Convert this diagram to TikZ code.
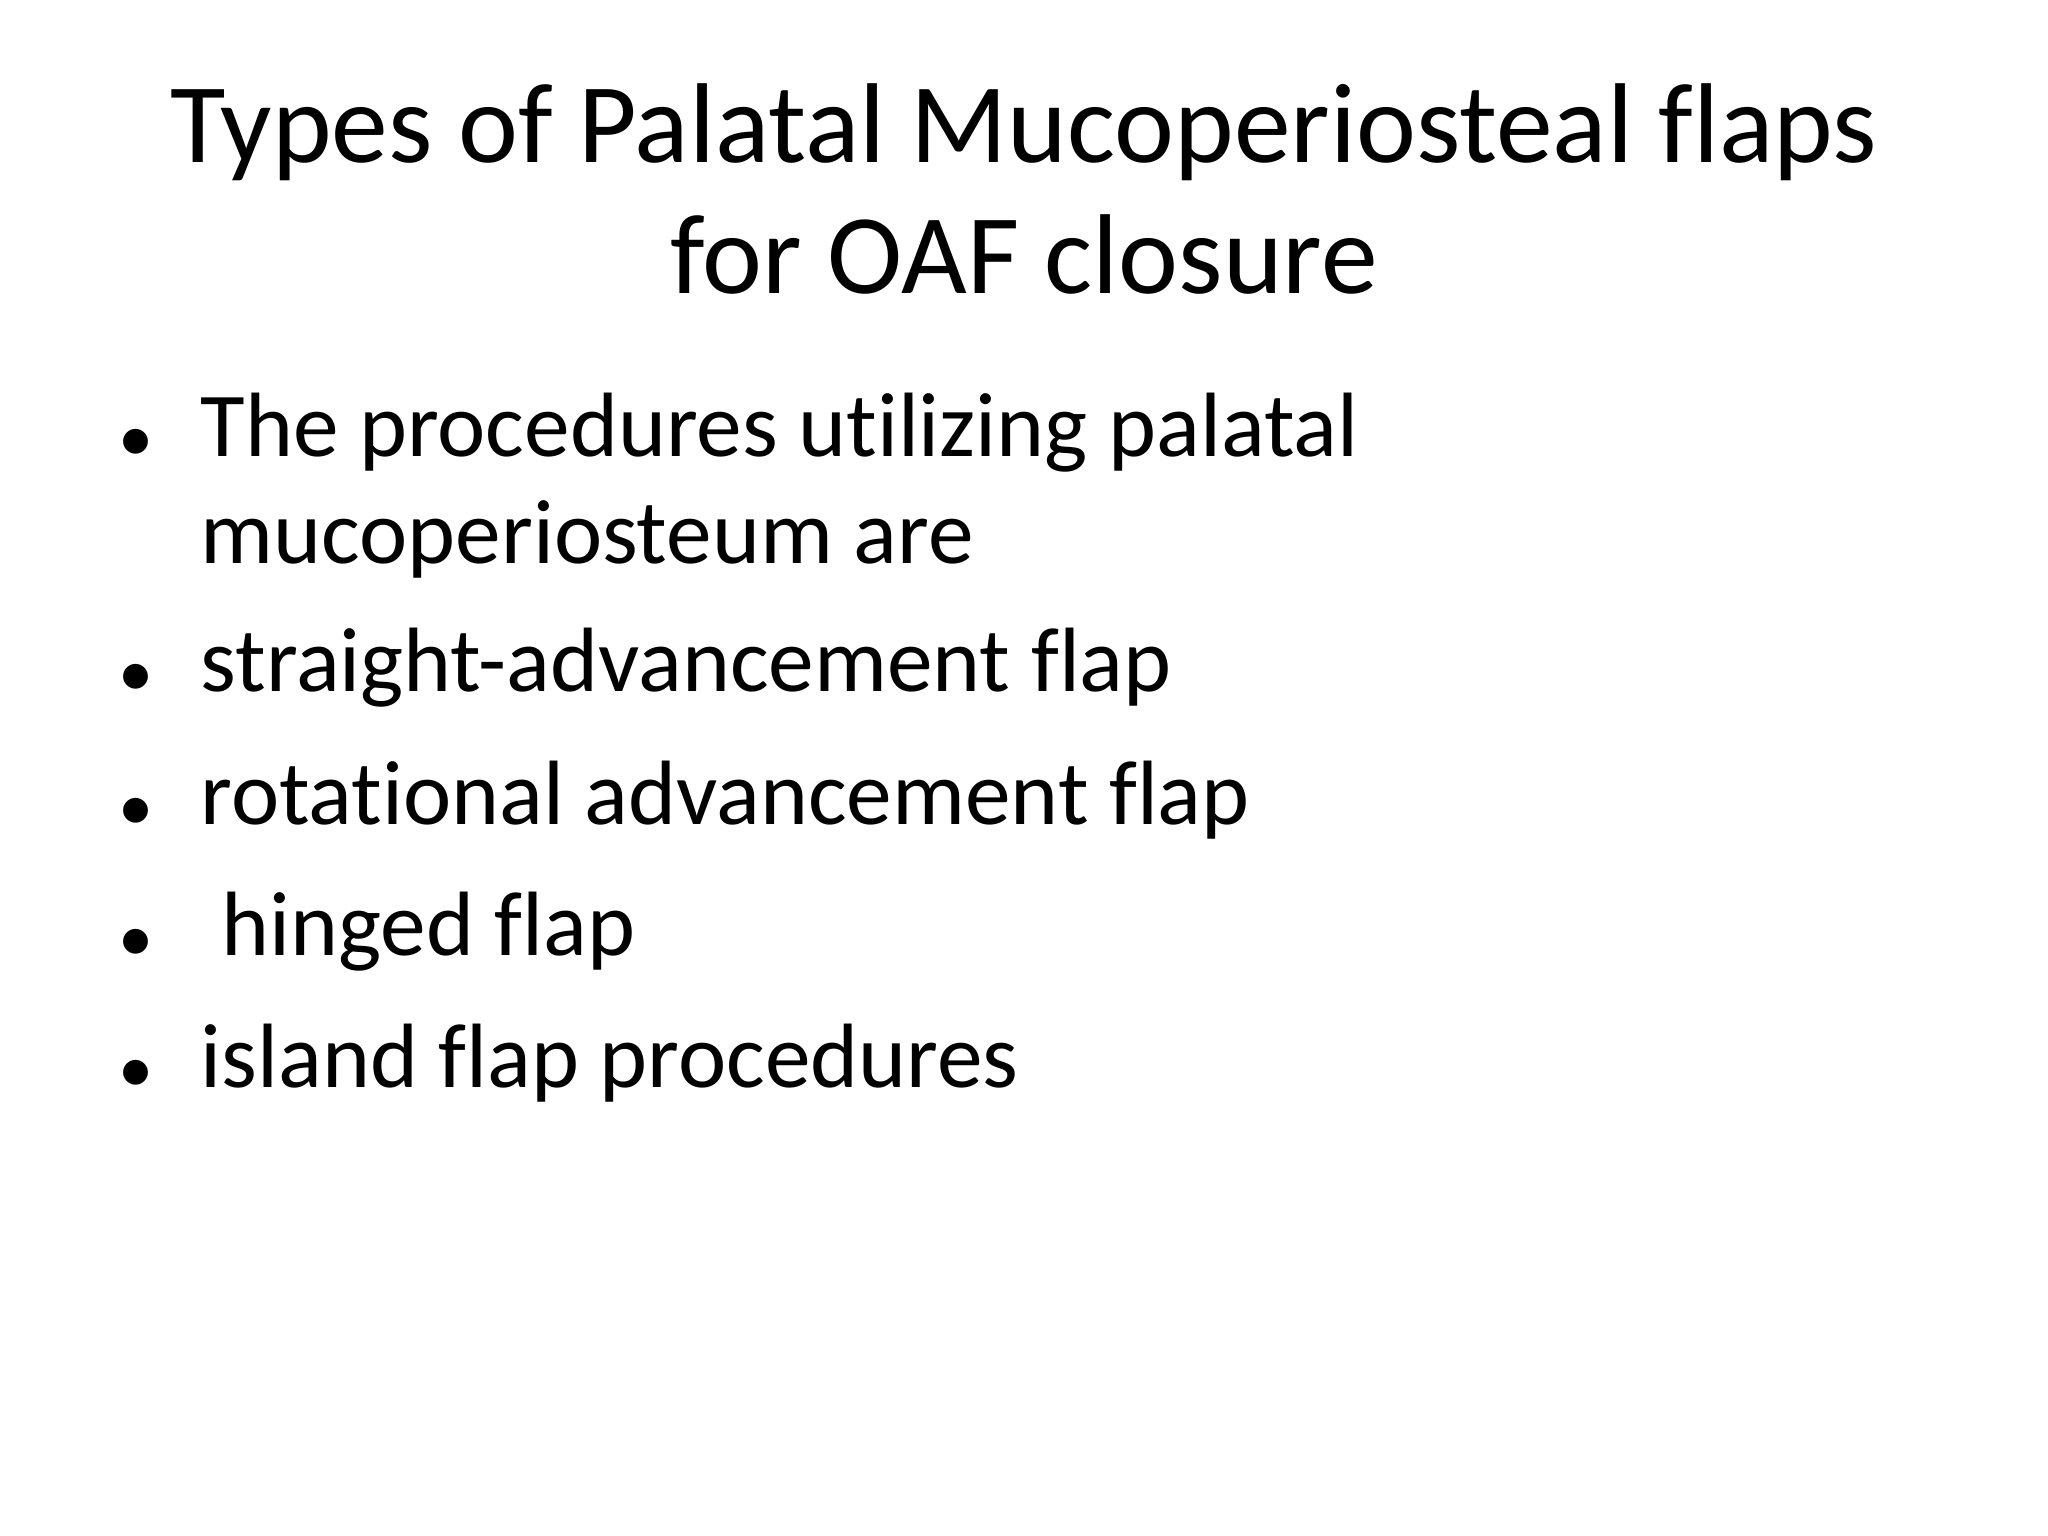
\documentclass[tikz,border=0pt]{standalone}
\usepackage{fontspec}
\setmainfont[Ligatures=NoCommon]{Carlito}
\begin{document}
\begin{tikzpicture}
    \tikzset{
        title/.style={anchor=base, inner sep=0pt, font=\fontsize{32.3}{38}\selectfont},
        item/.style={anchor=base west, inner sep=0pt, font=\fontsize{26}{31}\selectfont},
        dot/.style={anchor=base, inner sep=0pt, font=\fontsize{20}{24}\selectfont}
    }
    \useasboundingbox (0, 0) rectangle (20.48, -15.36);
    \node[title] (t1) at (10.24, -1.63) {Types of Palatal Mucoperiosteal flaps};
    \node[title] (t2) at (10.24, -2.94) {for OAF closure};
    \node[dot] (b1) at (1.36, -4.62) {•};
    \node[item] (i1) at (2.0, -4.57) {The procedures utilizing palatal};
    \node[item] (i1b) at (2.0, -5.64) {mucoperiosteum are};
    \node[dot] (b2) at (1.36, -6.97) {•};
    \node[item] (i2) at (2.0, -6.92) {straight-advancement flap};
    \node[dot] (b3) at (1.36, -8.30) {•};
    \node[item] (i3) at (2.0, -8.25) {rotational advancement flap};
    \node[dot] (b4) at (1.36, -9.61) {•};
    \node[item] (i4) at (2.0, -9.56) {\ hinged flap};
    \node[dot] (b5) at (1.36, -10.92) {•};
    \node[item] (i5) at (2.0, -10.87) {island flap procedures};
\end{tikzpicture}
\end{document}
